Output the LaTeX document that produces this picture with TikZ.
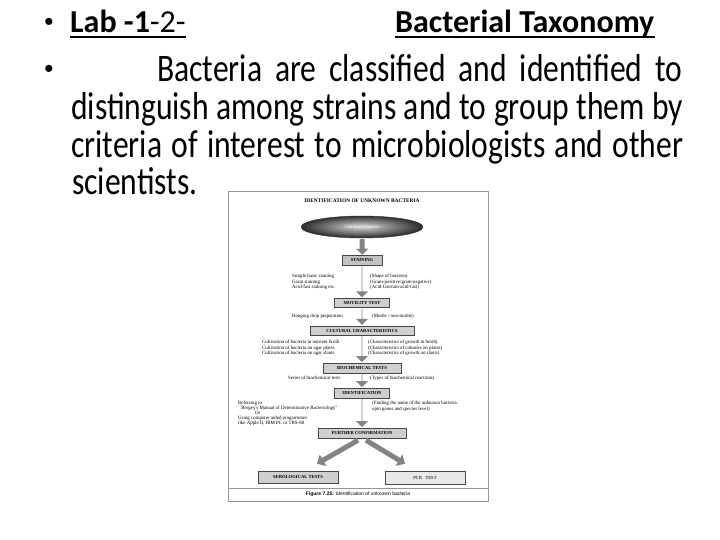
\documentclass[tikz,border=0pt]{standalone}
\usepackage{fontspec}
\setmainfont{Carlito}
\newfontfamily\bodyfont{Carlito}[FakeStretch=0.81]
\newfontfamily\figfont{Liberation Serif}
\newfontfamily\capfont{Liberation Sans}
\usetikzlibrary{shapes.geometric,shapes.arrows,arrows.meta,calc}
\definecolor{arrowgray}{RGB}{132,132,132}
\definecolor{framegray}{RGB}{150,150,150}
\newcommand{\figtext}{\figfont\fontsize{4.9}{5.6}\selectfont}
\newcommand{\boxtext}{\figfont\bfseries\fontsize{4.6}{5}\selectfont}
\tikzstyle{testbox} = [draw=gray!55!black, fill=gray!38, line width=0.5pt, inner sep=0pt, minimum height=10pt, font=\boxtext]
\tikzstyle{flowarrow} = [draw=arrowgray, line width=5pt, -{Triangle[length=6pt,width=12pt]}]
\tikzstyle{blockarrow} = [single arrow, fill=arrowgray, draw=none, rotate=-90, inner sep=0pt, minimum width=12pt, single arrow head extend=3.5pt, single arrow head indent=0pt]
\tikzstyle{sidenote} = [inner sep=0pt, align=left, font=\figtext]
\tikzstyle{slideline} = [inner sep=0pt, anchor=base west, font=\bodyfont\fontsize{39}{38}\selectfont]
\tikzstyle{bulletmark} = [inner sep=0pt, anchor=base, font=\capfont\fontsize{26}{28}\selectfont]

\begin{document}
\begin{tikzpicture}[x=1pt,y=-1pt]
	\fill[white] (0,0) rectangle (720,540);
	\useasboundingbox (0,0) rectangle (720,540);
	% slide title
	\node[bulletmark] (bul1) at (49,31) {\textbullet};
	\node[inner sep=0pt, anchor=base west, font=\fontsize{32}{34}\selectfont] (lab) at (70,33) {\textbf{Lab -1}-2-};
	\node[inner sep=0pt, anchor=base west, font=\bfseries\fontsize{32}{34}\selectfont] (topic) at (395,33) {Bacterial Taxonomy};
	\draw[line width=1.8pt] ([yshift=-4pt]lab.base west) -- ([yshift=-4pt]lab.base east);
	\draw[line width=1.8pt] ([yshift=-4pt]topic.base west) -- ([yshift=-4pt]topic.base east);
	% slide text
	\node[bulletmark] (bul2) at (49,78) {\textbullet};
	\node[slideline] (line1) at (157,82) {\hbox to 525pt{Bacteria are classified and identified to}};
	\node[slideline] (line2) at (71,119.7) {\hbox to 612pt{distinguish among strains and to group them by}};
	\node[slideline] (line3) at (71,157.4) {\hbox to 612pt{criteria of interest to microbiologists and other}};
	\node[slideline] (line4) at (72,195) {scientists.};
	% figure frame
	\draw[framegray, line width=0.8pt] (228,191) rectangle (488,501);
	\draw[framegray, line width=0.5pt] (228,488) -- (488,488);
	\node[inner sep=0pt, font=\figfont\bfseries\fontsize{5.4}{6}\selectfont] (figtitle) at (362,201) {IDENTIFICATION OF UNKNOWN BACTERIA};
	% shaded oval, dark rim to light centre
	\foreach \i in {0,...,12}{
		\pgfmathtruncatemacro\pct{20+58*\i/12}
		\fill[white!\pct!black] (362,227) ellipse ({61*(1-\i/14)} and {11*(1-\i/14)});
	}
	\node[ellipse, draw=gray!40!black, minimum width=122pt, minimum height=22pt, inner sep=0pt, text=white, font=\figfont\fontsize{4.8}{5}\selectfont] (unknown) at (362,227) {Unknown bacteria};
	% steps
	\node[testbox, minimum width=40pt, fill=gray!48] (staining) at (362,260) {STAINING};
	\node[testbox, minimum width=55pt, minimum height=9pt] (motility) at (362,303) {MOTILITY TEST};
	\node[testbox, minimum width=104pt, minimum height=9pt] (cultural) at (362,330.5) {CULTURAL CHARACTERISTICS};
	\node[testbox, minimum width=78pt] (biochem) at (362,368) {BIOCHEMICAL TESTS};
	\node[testbox, minimum width=55pt] (ident) at (362,393) {IDENTIFICATION};
	\node[testbox, minimum width=88pt] (further) at (362,433) {FURTHER CONFIRMATION};
	\node[testbox, minimum width=80pt, minimum height=12pt] (sero) at (298,477) {SEROLOGICAL TESTS};
	\node[testbox, minimum width=80pt, minimum height=13pt, fill=gray!18, font=\figfont\fontsize{4.6}{5}\selectfont] (pcr) at (425,477.5) {PCR \ \ TEST};
	% arrows
	\draw[flowarrow] ([yshift=-1pt]unknown.south) -- ([xshift=0.4pt]staining.north);
	\node[blockarrow, minimum height=31pt] (a1) at ($(staining.south)!0.5!(motility.north)$) {};
	\node[blockarrow, minimum height=16pt] (a2) at ($(motility.south)!0.5!(cultural.north)$) {};
	\node[blockarrow, minimum height=26pt] (a3) at ($(cultural.south)!0.5!(biochem.north)$) {};
	\node[blockarrow, minimum height=13pt] (a4) at ($(biochem.south)!0.5!(ident.north)$) {};
	\node[blockarrow, minimum height=28pt] (a5) at ($(ident.south)!0.5!(further.north)$) {};
	\draw[flowarrow, -{Triangle[length=7pt,width=13pt]}] ([xshift=-4pt,yshift=-2pt]further.south) -- ([xshift=19pt,yshift=7pt]sero.north);
	\draw[flowarrow, -{Triangle[length=7pt,width=13pt]}] ([xshift=4pt,yshift=-2pt]further.south) -- ([xshift=-20pt,yshift=7pt]pcr.north);
	% notes beside the arrows
	\node[sidenote, anchor=north west] (stainL) at (292,274) {Simple basic staining\\Gram staining\\Acid-fast staining etc.};
	\node[sidenote, anchor=north west] (stainR) at (370,274) {(Shape of bacteria)\\(Gram-positive/gram-negative)\\(Acid-fast/non-acid-fast)};
	\node[sidenote, anchor=west] (motL) at (292,316) {Hanging drop preparation};
	\node[sidenote, anchor=west] (motR) at (372,316) {(Motile / non-motile)};
	\node[sidenote, anchor=north west] (cultL) at (262,340) {Cultivation of bacteria in nutrient broth\\Cultivation of bacteria on agar plates\\Cultivation of bacteria on agar slants};
	\node[sidenote, anchor=north west] (cultR) at (368,340) {(Characteristics of growth in broth)\\(Characteristics of colonies on plates)\\(Characteristics of growth on slants)};
	\node[sidenote, anchor=west] (bioL) at (288,378) {Series of biochemical tests};
	\node[sidenote, anchor=west] (bioR) at (370,378) {(Types of biochemical reactions)};
	\node[sidenote, anchor=north west, font=\figfont\fontsize{4.9}{5.1}\selectfont] (identL) at (238,400.5) {Referring to\\``Bergey's Manual of Determinative Bacteriology''\\\hspace*{17pt}Or\\Using computer aided programmes\\like Apple II, IBM PC or TRS-80};
	\node[sidenote, anchor=north west] (identR) at (372,401) {(Finding the name of the unknown bacteria\\upto genus and species level)};
	% caption
	\node[inner sep=0pt, font=\capfont\fontsize{5}{6}\selectfont] (caption) at (358,494) {\textbf{Figure 7.25:} Identification of unknown bacteria};
\end{tikzpicture}
\end{document}
